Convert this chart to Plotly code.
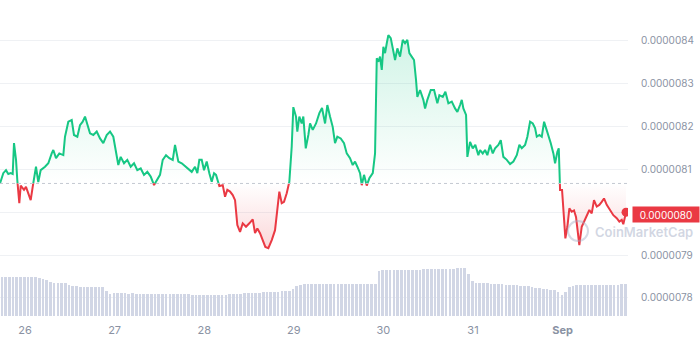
import pandas as pd
import plotly.graph_objects as go

# ---- price series: hours since the first sample, and price in USD ----
START = pd.Timestamp("2023-08-25 17:18")

hours = [
    0, 0.88, 1.61, 2.22, 2.87, 3.40, 3.75, 4.29, 4.63, 5.17,
    5.55, 6.08, 6.43, 6.96, 7.58, 8.22, 8.76, 9.64, 10.26, 10.90,
    12.06, 12.94, 13.85, 14.28, 15.00, 15.89, 16.96, 17.41, 18.30, 19.21,
    19.82, 20.71, 21.43, 22.15, 22.77, 23.39, 24.11, 25.00, 25.91, 26.79,
    27.67, 28.58, 29.47, 30.35, 31.26, 31.69, 32.33, 33.22, 34.10, 35.01,
    35.90, 36.78, 37.69, 38.58, 39.46, 40.37, 41.26, 41.98, 42.86,
    43.59, 44.47, 45.36, 46.27, 46.88, 47.77, 48.68, 49.56, 50.45, 51.36,
    52.24, 52.86, 53.39, 54.03, 54.65, 55.37, 56.07, 56.71, 57.33, 57.87,
    58.75, 59.66, 60.28, 60.89, 61.62, 62.34, 62.96, 63.57, 64.30, 65.02,
    65.90, 66.79, 67.70, 68.31, 68.93, 69.65, 70.38, 71.07, 71.88, 72.79,
    73.67, 74.28, 74.82, 75.46, 76.08, 76.80, 77.50, 78.14, 78.57, 79.29,
    79.64, 80.18, 80.82, 81.25, 81.90, 82.59, 83.05, 83.77, 84.65, 85.54,
    86.26, 87.07, 87.68, 88.40, 89.12, 89.74, 90.36, 91.27, 92.15, 92.88,
    93.76, 94.48, 95.10, 95.72, 96.44, 96.90, 97.51, 98.24, 98.93, 99.85,
    100.46, 100.92, 101.35, 101.80, 102.26, 102.69, 103.14, 103.60, 104.02, 104.67,
    105.20, 105.82, 106.44, 107.16, 107.88, 108.49, 109.11, 109.65, 110.28, 110.90,
    111.44, 111.79, 112.51, 113.40, 113.86, 114.47, 115.38, 116.27, 117.15, 117.69,
    118.60, 119.30, 120.10, 121.01, 121.89, 122.51, 123.23, 123.69, 124.12, 124.84,
    125.19, 125.91, 126.63, 127.32, 128.13, 128.59,
    129.31, 129.93, 130.54, 131.27, 131.99, 132.61, 133.49, 134.14, 134.83, 135.75,
    136.63, 137.51, 138.42, 139.12, 139.76, 140.65, 141.26, 141.99, 142.71, 143.32,
    143.78, 144.48, 145.12, 145.74, 146.27, 146.89, 147.53, 148.23, 148.68, 149.30,
    149.67, 150.02, 150.55, 150.91, 151.44, 151.98, 152.51, 153.14, 153.76, 154.29,
    154.64, 155.18, 155.82, 156.44, 157.16, 157.86, 158.50, 159.11, 159.84, 160.53,
    161.18, 161.79, 162.52, 163.40, 164.29, 165.20, 165.89, 166.54, 166.96, 167.69,
]

price = [
    8.067e-6, 8.091e-6, 8.098e-6, 8.089e-6, 8.091e-6, 8.089e-6, 8.161e-6, 8.122e-6, 8.075e-6, 8.021e-6,
    8.062e-6, 8.056e-6, 8.052e-6, 8.059e-6, 8.044e-6, 8.028e-6, 8.059e-6, 8.106e-6, 8.070e-6, 8.098e-6,
    8.106e-6, 8.114e-6, 8.137e-6, 8.145e-6, 8.126e-6, 8.137e-6, 8.133e-6, 8.176e-6, 8.211e-6, 8.215e-6,
    8.180e-6, 8.176e-6, 8.203e-6, 8.211e-6, 8.223e-6, 8.203e-6, 8.184e-6, 8.180e-6, 8.188e-6, 8.172e-6,
    8.161e-6, 8.180e-6, 8.188e-6, 8.176e-6, 8.129e-6, 8.110e-6, 8.129e-6, 8.114e-6, 8.122e-6, 8.106e-6,
    8.114e-6, 8.098e-6, 8.102e-6, 8.087e-6, 8.094e-6, 8.083e-6, 8.063e-6, 8.075e-6, 8.087e-6,
    8.122e-6, 8.133e-6, 8.126e-6, 8.122e-6, 8.157e-6, 8.118e-6, 8.114e-6, 8.108e-6, 8.102e-6, 8.094e-6,
    8.106e-6, 8.091e-6, 8.122e-6, 8.122e-6, 8.098e-6, 8.118e-6, 8.091e-6, 8.071e-6, 8.091e-6, 8.087e-6,
    8.061e-6, 8.063e-6, 8.036e-6, 8.052e-6, 8.048e-6, 8.040e-6, 8.028e-6, 7.970e-6, 7.954e-6, 7.974e-6,
    7.966e-6, 7.974e-6, 7.983e-6, 7.951e-6, 7.962e-6, 7.951e-6, 7.935e-6, 7.919e-6, 7.916e-6, 7.935e-6,
    7.958e-6, 8.013e-6, 8.048e-6, 8.021e-6, 8.024e-6, 8.044e-6, 8.071e-6, 8.153e-6, 8.245e-6, 8.223e-6,
    8.188e-6, 8.223e-6, 8.207e-6, 8.223e-6, 8.149e-6, 8.180e-6, 8.207e-6, 8.192e-6, 8.207e-6, 8.231e-6,
    8.243e-6, 8.207e-6, 8.250e-6, 8.223e-6, 8.199e-6, 8.161e-6, 8.176e-6, 8.172e-6, 8.161e-6, 8.137e-6,
    8.126e-6, 8.110e-6, 8.118e-6, 8.106e-6, 8.091e-6, 8.063e-6, 8.087e-6, 8.062e-6, 8.079e-6, 8.091e-6,
    8.137e-6, 8.359e-6, 8.351e-6, 8.363e-6, 8.332e-6, 8.386e-6, 8.371e-6, 8.394e-6, 8.413e-6, 8.406e-6,
    8.378e-6, 8.355e-6, 8.382e-6, 8.363e-6, 8.402e-6, 8.394e-6, 8.402e-6, 8.371e-6, 8.363e-6, 8.355e-6,
    8.308e-6, 8.269e-6, 8.285e-6, 8.262e-6, 8.242e-6, 8.262e-6, 8.285e-6, 8.285e-6, 8.254e-6, 8.273e-6,
    8.269e-6, 8.281e-6, 8.254e-6, 8.258e-6, 8.242e-6, 8.234e-6, 8.250e-6, 8.262e-6, 8.242e-6, 8.227e-6,
    8.129e-6, 8.164e-6, 8.149e-6, 8.157e-6, 8.133e-6, 8.145e-6,
    8.137e-6, 8.145e-6, 8.133e-6, 8.157e-6, 8.137e-6, 8.149e-6, 8.157e-6, 8.168e-6, 8.129e-6, 8.122e-6,
    8.112e-6, 8.118e-6, 8.133e-6, 8.157e-6, 8.149e-6, 8.157e-6, 8.176e-6, 8.211e-6, 8.207e-6, 8.196e-6,
    8.176e-6, 8.180e-6, 8.176e-6, 8.211e-6, 8.196e-6, 8.180e-6, 8.161e-6, 8.137e-6, 8.114e-6, 8.141e-6,
    8.149e-6, 8.052e-6, 8.052e-6, 8.013e-6, 7.939e-6, 7.966e-6, 8.009e-6, 8.001e-6, 8.004e-6, 7.989e-6,
    7.958e-6, 7.923e-6, 7.966e-6, 7.978e-6, 7.989e-6, 8.005e-6, 7.997e-6, 8.028e-6, 8.013e-6, 8.017e-6,
    8.024e-6, 8.032e-6, 8.017e-6, 8.005e-6, 7.993e-6, 7.986e-6, 7.978e-6, 7.982e-6, 7.972e-6, 8.000e-6,
]

# ---- hourly 24h-volume bars (millions USD) ----
volume = [
    3.95, 3.95, 3.95, 3.95, 3.95, 3.95, 3.95, 3.95, 3.95, 3.90, 3.85,
    3.75, 3.60, 3.40, 3.35, 3.30, 3.30, 3.30, 3.10,
    2.97, 2.96, 2.95, 2.95, 2.94, 2.93, 2.92, 2.92, 2.90, 2.50, 2.25,
    2.27, 2.26, 2.27, 2.26, 2.25, 2.26, 2.25, 2.25, 2.24, 2.24, 2.23, 2.24, 2.23, 2.22, 2.22, 2.21,
    2.18, 2.17, 2.17, 2.16, 2.16, 2.15, 2.15, 2.14, 2.15, 2.14, 2.14, 2.13, 2.14, 2.15, 2.15, 2.16, 2.17,
    2.20, 2.24, 2.27, 2.30, 2.30, 2.33, 2.35, 2.36, 2.38, 2.40, 2.42, 2.44, 2.46, 2.48, 2.50,
    2.70, 3.05, 3.10,
    3.20, 3.20, 3.21, 3.22, 3.22, 3.20, 3.21, 3.22, 3.23, 3.22, 3.22, 3.21, 3.22, 3.23, 3.22, 3.20,
    3.20, 3.19, 3.18, 3.20,
    4.55, 4.58, 4.60, 4.60, 4.60, 4.61, 4.62, 4.62, 4.63, 4.63, 4.64, 4.65, 4.66, 4.66, 4.67, 4.68,
    4.70, 4.70, 4.72, 4.73, 4.75, 4.77, 4.80, 4.82,
    4.20, 3.55, 3.35,
    3.32, 3.30, 3.28, 3.25, 3.22, 3.20, 3.17, 3.15, 3.12, 3.10, 3.07, 3.05, 3.00, 2.97,
    2.90, 2.85, 2.80, 2.75, 2.70, 2.65, 2.60,
    2.40, 2.15, 2.40, 2.90,
    3.05, 3.07, 3.08, 3.08, 3.10, 3.10, 3.10, 3.12, 3.12, 3.13, 3.12, 3.14, 3.15, 3.18, 3.20,
]

# the 0.0000080 level is labelled by the current-price tag, which sits on top of it
y_ticks = [7.8e-6, 7.9e-6, 8.0e-6, 8.1e-6, 8.2e-6, 8.3e-6, 8.4e-6]
y_ticktext = ["0.0000078", "0.0000079", "", "0.0000081",
              "0.0000082", "0.0000083", "0.0000084"]
x_ticks = ["2023-08-26", "2023-08-27", "2023-08-28", "2023-08-29",
           "2023-08-30", "2023-08-31", "2023-09-01"]
x_ticktext = ["26", "27", "28", "29", "30", "31", "<b>Sep</b>"]
last_label = "0.0000080"

GREEN = "#16c784"
RED = "#ea3943"
base = price[0]  # reference (opening) price for the period


def to_time(hs):
    return [None if h is None else START + pd.Timedelta(hours=h) for h in hs]


# Path including the points where the line crosses the opening price,
# so the green/red parts and their fills meet cleanly.
px, py = [], []
for i, (h, p) in enumerate(zip(hours, price)):
    if i > 0:
        h0, p0 = hours[i - 1], price[i - 1]
        if (p0 - base) * (p - base) < 0:
            f = (base - p0) / (p - p0)
            px.append(h0 + f * (h - h0))
            py.append(base)
    px.append(h)
    py.append(p)


def colored_part(above):
    lx, ly = [], []
    last_end = None
    for j in range(len(px) - 1):
        mid = (py[j] + py[j + 1]) / 2
        if (mid >= base) == above:
            if last_end != j:
                if lx:
                    lx.append(None)
                    ly.append(None)
                lx.append(px[j])
                ly.append(py[j])
            lx.append(px[j + 1])
            ly.append(py[j + 1])
            last_end = j + 1
    return lx, ly


times = to_time(px)
fig = go.Figure()

# volume bars on a hidden secondary axis
fig.add_trace(go.Bar(
    x=pd.date_range(START, periods=len(volume), freq="h") + pd.Timedelta(minutes=30),
    y=volume, yaxis="y2", marker=dict(color="#d1d6e5", line=dict(width=0)),
    width=0.72 * 3600 * 1000, hoverinfo="skip", showlegend=False,
))

# green area (above opening price)
fig.add_trace(go.Scatter(x=times, y=[base] * len(px), mode="lines",
                         line=dict(width=0), hoverinfo="skip", showlegend=False))
fig.add_trace(go.Scatter(
    x=times, y=[max(v, base) for v in py], mode="lines", line=dict(width=0),
    fill="tonexty",
    fillgradient=dict(type="vertical", start=base, stop=max(price),
                      colorscale=[[0, "rgba(22,199,132,0.0)"], [1, "rgba(22,199,132,0.20)"]]),
    hoverinfo="skip", showlegend=False,
))
# red area (below opening price)
fig.add_trace(go.Scatter(x=times, y=[base] * len(px), mode="lines",
                         line=dict(width=0), hoverinfo="skip", showlegend=False))
fig.add_trace(go.Scatter(
    x=times, y=[min(v, base) for v in py], mode="lines", line=dict(width=0),
    fill="tonexty",
    fillgradient=dict(type="vertical", start=min(price), stop=base,
                      colorscale=[[0, "rgba(234,57,67,0.20)"], [1, "rgba(234,57,67,0.0)"]]),
    hoverinfo="skip", showlegend=False,
))

gx, gy = colored_part(True)
rx, ry = colored_part(False)
fig.add_trace(go.Scatter(x=to_time(gx), y=gy, mode="lines",
                         line=dict(color=GREEN, width=2), showlegend=False))
fig.add_trace(go.Scatter(x=to_time(rx), y=ry, mode="lines",
                         line=dict(color=RED, width=2), showlegend=False))

# last price marker
fig.add_trace(go.Scatter(x=to_time([hours[-1]]), y=[price[-1]], mode="markers",
                         marker=dict(color=RED, size=9), showlegend=False))

# dotted opening-price line
fig.add_shape(type="line", xref="paper", x0=0, x1=1, yref="y", y0=base, y1=base,
              line=dict(color="#c3c8d1", width=1, dash="dot"))

# watermark
fig.add_shape(type="circle", xref="paper", yref="paper",
              x0=568 / 628, x1=588 / 628, y0=(316 - 241) / 316, y1=(316 - 221) / 316,
              line=dict(color="rgba(165,174,198,0.45)", width=2))
fig.add_annotation(xref="paper", yref="paper", x=593 / 628, y=(316 - 232) / 316,
                   xanchor="left", yanchor="middle", text="CoinMarketCap", showarrow=False,
                   font=dict(family="Inter", size=13, color="rgba(165,174,198,0.5)", weight=600))

# current price tag
fig.add_annotation(xref="paper", yref="y", x=1, y=price[-1], xanchor="left", xshift=4,
                   yshift=-2, text=last_label, showarrow=False, bgcolor=RED,
                   width=62, height=11, borderpad=2, align="center",
                   font=dict(family="Inter", size=10, color="white"))

x_end = START + pd.Timedelta(hours=628 * 0.26786)
fig.update_layout(
    width=700, height=341,
    margin=dict(l=0, r=72, t=0, b=25),
    paper_bgcolor="white", plot_bgcolor="white",
    bargap=0,
    xaxis=dict(range=[START, x_end], tickvals=x_ticks, ticktext=x_ticktext,
               showgrid=False, zeroline=False, showline=False, ticks="",
               ticklabelstandoff=6,
               tickfont=dict(family="Inter", size=11, color="#8a92a3")),
    yaxis=dict(range=[7.75777e-6, 8.49496e-6], side="right", tickvals=y_ticks,
               ticktext=y_ticktext, showgrid=True, gridcolor="#eff1f4", gridwidth=1,
               zeroline=False, showline=False, ticks="", ticklabelstandoff=12,
               tickfont=dict(family="Inter", size=10, color="#8a92a3")),
    yaxis2=dict(range=[0, 31.6], overlaying="y", visible=False),
    hovermode=False,
)

fig.write_html("out.html")
